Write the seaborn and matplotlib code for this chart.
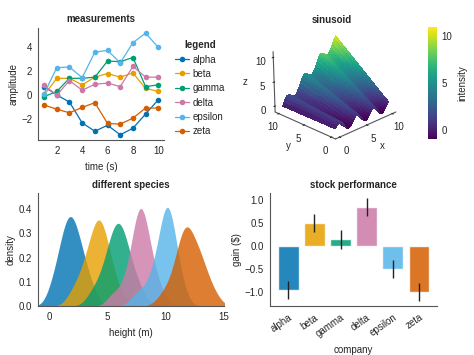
import numpy as np
import pandas as pd
import seaborn as sns
import matplotlib.pyplot as plt
from matplotlib import cm
from matplotlib.colors import Normalize

# ---- data ----
names = ['alpha', 'beta', 'gamma', 'delta', 'epsilon', 'zeta']
colors = ['#0072B2', '#E69F00', '#009E73', '#CC79A7', '#56B4E9', '#D55E00']

time_s = [1, 2, 3, 4, 5, 6, 7, 8, 9, 10]
amp_alpha = [0.7, 0.0, -0.6, -2.35, -3.05, -2.55, -3.35, -2.8, -1.6, -0.4]
amp_beta = [0.0, 1.4, 1.4, 0.85, 1.5, 1.8, 1.5, 1.85, 0.55, 0.3]
amp_gamma = [-0.15, 0.3, 1.4, 1.4, 1.5, 2.85, 2.8, 3.15, 0.7, 0.85]
amp_delta = [0.8, 0.0, 1.2, 0.4, 0.9, 1.0, 0.7, 2.4, 1.5, 1.5]
amp_epsilon = [0.1, 2.3, 2.35, 1.45, 3.6, 3.75, 2.7, 4.4, 5.2, 4.0]
amp_zeta = [-0.85, -1.2, -1.5, -1.05, -0.65, -2.4, -2.45, -1.95, -1.1, -1.1]

# sinusoid surface: ripple profile along x (step 0.25)
surf_x = np.linspace(0, 10, 41)
surf_y = np.linspace(0, 10, 41)
ripple = [0.0, 0.479, 0.841, 0.997, 0.909, 0.598, 0.141, -0.351, -0.757, -0.978,
          -0.959, -0.706, -0.279, 0.215, 0.657, 0.938, 0.989, 0.798, 0.412, -0.075,
          -0.544, -0.880, -1.0, -0.875, -0.537, -0.066, 0.420, 0.804, 0.991, 0.935,
          0.650, 0.206, -0.288, -0.712, -0.961, -0.976, -0.751, -0.342, 0.150, 0.603,
          0.913]

# species heights (m)
h_alpha = [0.1, 0.55, 0.8, 1.0, 1.15, 1.3, 1.45, 1.55, 1.7, 1.8, 1.9, 2.0, 2.15, 2.3, 2.45, 2.6, 2.8, 3.0, 3.3, 3.8]
h_beta = [1.9, 2.5, 2.85, 3.1, 3.35, 3.55, 3.7, 3.85, 4.0, 4.1, 4.2, 4.3, 4.45, 4.55, 4.7, 4.85, 5.0, 5.2, 5.5, 6.0]
h_gamma = [3.6, 4.2, 4.6, 4.9, 5.1, 5.3, 5.45, 5.55, 5.65, 5.8, 5.95, 6.1, 6.2, 6.3, 6.45, 6.6, 6.8, 7.05, 7.4, 7.9]
h_delta = [5.4, 6.2, 6.7, 7.0, 7.2, 7.35, 7.5, 7.6, 7.7, 7.8, 7.85, 7.95, 8.05, 8.15, 8.3, 8.45, 8.6, 8.8, 9.1, 9.6]
h_epsilon = [7.4, 8.2, 8.7, 9.05, 9.3, 9.5, 9.65, 9.8, 9.9, 10.0, 10.1, 10.15, 10.25, 10.35, 10.45, 10.55, 10.7, 10.85, 11.1, 11.5]
h_zeta = [9.7, 10.4, 10.8, 11.05, 11.25, 11.4, 11.55, 11.65, 11.75, 11.85, 11.95, 12.1, 12.3, 12.5, 12.7, 12.9, 13.05, 13.25, 13.6, 14.2]

gain = [-0.96, 0.5, 0.14, 0.85, -0.5, -1.0]
gain_err = [0.2, 0.2, 0.2, 0.19, 0.2, 0.2]

# ---- style ----
sns.set_style('white')
plt.rcParams['font.family'] = ['Liberation Sans', 'DejaVu Sans']
plt.rcParams['font.size'] = 7
plt.rcParams['axes.titlesize'] = 7
plt.rcParams['axes.titleweight'] = 'bold'
plt.rcParams['axes.labelsize'] = 7
plt.rcParams['xtick.labelsize'] = 7
plt.rcParams['ytick.labelsize'] = 7
plt.rcParams['axes.edgecolor'] = '#555555'
plt.rcParams['axes.linewidth'] = 0.8

fig = plt.figure(figsize=(4.74, 3.55), dpi=100)

# ---- sinusoid (3d) ----
ax2 = fig.add_axes([0.544, 0.573, 0.32, 0.38], projection='3d')
X, Y = np.meshgrid(surf_x, surf_y)
Z = np.array(ripple)[None, :] + X * Y / 10
norm = Normalize(vmin=Z.min(), vmax=Z.max())
face = plt.get_cmap('viridis')(norm(Z))
ax2.plot_surface(X, Y, Z, facecolors=face, shade=False, rstride=1, cstride=1,
                 linewidth=0, antialiased=False)
ax2.view_init(elev=22, azim=-135)
ax2.set_xticks([0, 5, 10])
ax2.set_yticks([0, 5, 10])
ax2.set_zticks([0, 5, 10])
ax2.tick_params(pad=-3)
ax2.set_xlabel('x', labelpad=-9)
ax2.set_ylabel('y', labelpad=-9)
ax2.set_zlabel('z', labelpad=-9)
for axis in (ax2.xaxis, ax2.yaxis, ax2.zaxis):
    axis.set_pane_color((1, 1, 1, 0))
    axis.pane.set_edgecolor((1, 1, 1, 0))
ax2.grid(False)
fig.text(0.70, 0.935, 'sinusoid', ha='center', fontsize=7, fontweight='bold')
cax = fig.add_axes([0.903, 0.608, 0.019, 0.315])
sm = cm.ScalarMappable(norm=norm, cmap='viridis')
cb = fig.colorbar(sm, cax=cax)
cb.set_ticks([0, 5, 10])
cb.set_label('intensity', labelpad=4)
cb.outline.set_visible(False)
cax.tick_params(length=0, pad=3)

# ---- measurements ----
ax1 = fig.add_axes([0.081, 0.606, 0.265, 0.315])
lines = pd.DataFrame({'time': time_s * 6,
                      'amplitude': amp_alpha + amp_beta + amp_gamma + amp_delta + amp_epsilon + amp_zeta,
                      'legend': [n for n in names for _ in time_s]})
sns.lineplot(data=lines, x='time', y='amplitude', hue='legend', palette=colors,
             marker='o', markersize=4, markeredgewidth=0, linewidth=0.9, ax=ax1)
ax1.set_title('measurements', pad=4)
ax1.set_xlabel('time (s)')
ax1.set_ylabel('amplitude', labelpad=2)
ax1.set_xticks([2, 4, 6, 8, 10])
ax1.set_yticks([-2, 0, 2, 4])
ax1.tick_params(pad=1)
leg = ax1.legend(title='legend', frameon=False, loc='upper left', bbox_to_anchor=(1.02, 0.97),
                 handlelength=1.4, handletextpad=0.4, labelspacing=0.45, fontsize=7)
leg.get_title().set_fontweight('bold')
sns.despine(ax=ax1)

# ---- different species ----
ax3 = fig.add_axes([0.080, 0.138, 0.392, 0.318])
for h, c in zip([h_alpha, h_beta, h_gamma, h_delta, h_epsilon, h_zeta], colors):
    sns.kdeplot(x=h, fill=True, color=c, alpha=0.8, linewidth=0, ax=ax3)
ax3.set_xlim(-1, 15)
ax3.set_ylim(0, 0.466)
ax3.set_xticks([0, 5, 10, 15])
ax3.set_title('different species', pad=4)
ax3.set_xlabel('height (m)')
ax3.set_ylabel('density', labelpad=2)
ax3.tick_params(pad=1)
sns.despine(ax=ax3)

# ---- stock performance ----
ax4 = fig.add_axes([0.570, 0.138, 0.352, 0.318])
bars = pd.DataFrame({'company': names, 'gain': gain})
sns.barplot(data=bars, x='company', y='gain', hue='company', palette=colors, saturation=1,
            alpha=0.85, width=0.8, errorbar=None, legend=False, ax=ax4)
ax4.errorbar(x=range(len(names)), y=gain, yerr=gain_err, fmt='none', ecolor='#222222', elinewidth=1)
ax4.set_xlim(-0.69, 5.69)
ax4.set_title('stock performance', pad=4)
ax4.set_xlabel('company')
ax4.set_ylabel('gain ($)', labelpad=2)
ax4.tick_params(pad=1)
plt.setp(ax4.get_xticklabels(), rotation=35, ha='right', rotation_mode='anchor')
sns.despine(ax=ax4)

fig.savefig('out.png', dpi=100)
